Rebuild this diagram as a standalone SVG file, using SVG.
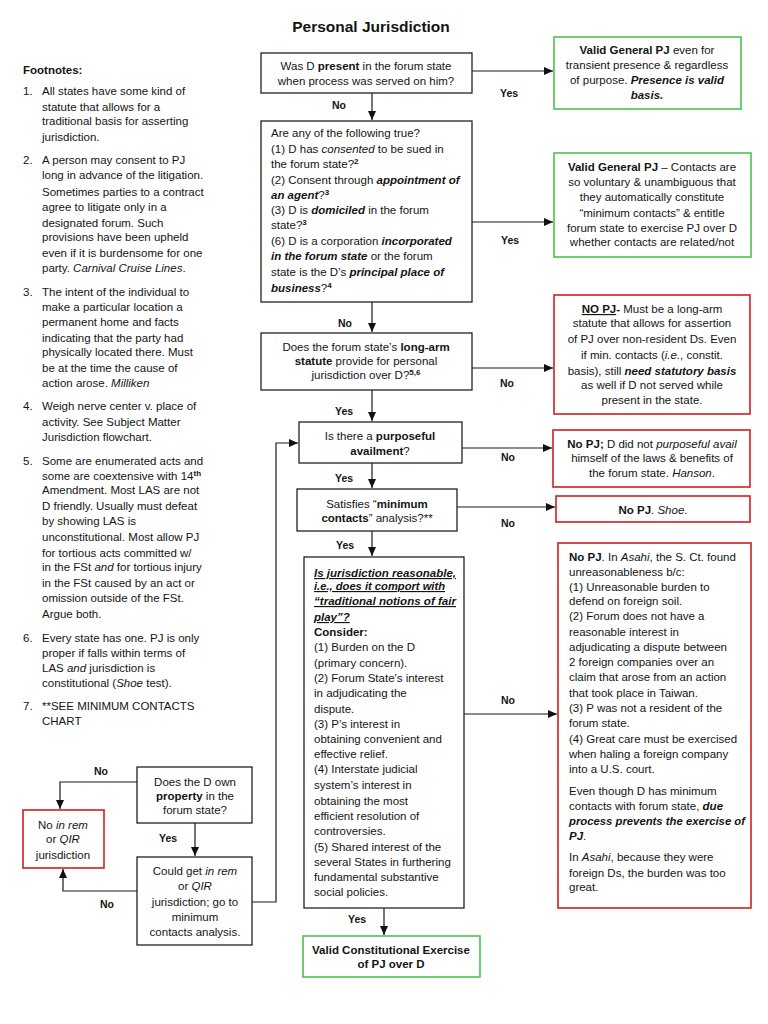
<svg xmlns="http://www.w3.org/2000/svg" width="768" height="1024" viewBox="0 0 768 1024" xml:space="preserve">
<defs>
<marker id="arr" markerUnits="userSpaceOnUse" markerWidth="9" markerHeight="8" refX="9" refY="4" orient="auto">
<path d="M0,0 L9,4 L0,8 z" fill="#111"/>
</marker>
<style>
text{font-family:"Liberation Sans",Arial,sans-serif;font-size:11.5px;fill:#141414}
.c{text-anchor:middle}
.b{font-weight:bold}
.i{font-style:italic}
.bi{font-weight:bold;font-style:italic}
.u{text-decoration:underline}
.sup{font-size:8px}
.title{font-size:15.5px;font-weight:bold}
.lbl{font-size:10.5px;font-weight:bold}
.box{fill:#fff;stroke:#222;stroke-width:1.3}
.green{fill:#fff;stroke:#4cc24c;stroke-width:1.6}
.red{fill:#fff;stroke:#d41f1f;stroke-width:1.6}
.conn path{fill:none;stroke:#1a1a1a;stroke-width:1.2;marker-end:url(#arr)}
</style>
</defs>
<rect width="768" height="1024" fill="#fff"/>
<text class="c title" x="371" y="32">Personal Jurisdiction</text>
<g id="footnotes">
<text class="b" x="23" y="74">Footnotes:</text>
<text x="23" y="95">1.</text>
<text x="42" y="95">All states have some kind of</text>
<text x="42" y="111">statute that allows for a</text>
<text x="42" y="125">traditional basis for asserting</text>
<text x="42" y="141">jurisdiction.</text>
<text x="23" y="164">2.</text>
<text x="42" y="164">A person may consent to PJ</text>
<text x="42" y="179">long in advance of the litigation.</text>
<text x="42" y="196">Sometimes parties to a contract</text>
<text x="42" y="211">agree to litigate only in a</text>
<text x="42" y="227">designated forum.  Such</text>
<text x="42" y="241">provisions have been upheld</text>
<text x="42" y="257">even if it is burdensome for one</text>
<text x="42" y="272">party.  <tspan class="i">Carnival Cruise Lines</tspan>.</text>
<text x="23" y="296">3.</text>
<text x="42" y="296">The intent of the individual to</text>
<text x="42" y="311">make a particular location a</text>
<text x="42" y="326">permanent home and facts</text>
<text x="42" y="342">indicating that the party had</text>
<text x="42" y="356">physically located there.  Must</text>
<text x="42" y="372">be at the time the cause of</text>
<text x="42" y="387">action arose.  <tspan class="i">Milliken</tspan></text>
<text x="23" y="410">4.</text>
<text x="42" y="410">Weigh nerve center v. place of</text>
<text x="42" y="426">activity. See Subject Matter</text>
<text x="42" y="441">Jurisdiction flowchart.</text>
<text x="23" y="465">5.</text>
<text x="42" y="465">Some are enumerated acts and</text>
<text x="42" y="480">some are coextensive with 14<tspan class="sup b" dy="-4">th</tspan></text>
<text x="42" y="494">Amendment. Most LAS are not</text>
<text x="42" y="510">D friendly.  Usually must defeat</text>
<text x="42" y="525">by showing LAS is</text>
<text x="42" y="541">unconstitutional.  Most allow PJ</text>
<text x="42" y="557">for tortious acts committed w/</text>
<text x="42" y="571">in the FSt <tspan class="i">and</tspan> for tortious injury</text>
<text x="42" y="587">in the FSt caused by an act or</text>
<text x="42" y="602">omission outside of the FSt.</text>
<text x="42" y="618">Argue both.</text>
<text x="23" y="642">6.</text>
<text x="42" y="642">Every state has one.  PJ is only</text>
<text x="42" y="657">proper if falls within terms of</text>
<text x="42" y="672">LAS <tspan class="i">and</tspan> jurisdiction is</text>
<text x="42" y="687">constitutional (<tspan class="i">Shoe</tspan> test).</text>
<text x="23" y="710">7.</text>
<text x="42" y="710">**SEE MINIMUM CONTACTS</text>
<text x="42" y="725">CHART</text>
</g>
<g class="conn" id="connectors">
<path d="M472,71 H553"/>
<path d="M372,93 V120"/>
<path d="M472,222 H553"/>
<path d="M372,302 V332"/>
<path d="M472,368 H553"/>
<path d="M372,390 V421"/>
<path d="M462,448 H552"/>
<path d="M372,463 V488"/>
<path d="M457,507 H555"/>
<path d="M372,531 V556"/>
<path d="M464,714 H557"/>
<path d="M384,908 V935"/>
<path d="M252,902 H276 V443 H298"/>
<path d="M137,782 H60 V809"/>
<path d="M195,823 V856"/>
<path d="M137,891 H63 V869"/>
<text class="lbl" x="500" y="97">Yes</text>
<text class="lbl" x="332" y="109">No</text>
<text class="lbl" x="501" y="244">Yes</text>
<text class="lbl" x="338" y="327">No</text>
<text class="lbl" x="500" y="387">No</text>
<text class="lbl" x="335" y="415">Yes</text>
<text class="lbl" x="501" y="461">No</text>
<text class="lbl" x="335" y="482">Yes</text>
<text class="lbl" x="501" y="527">No</text>
<text class="lbl" x="336" y="549">Yes</text>
<text class="lbl" x="501" y="704">No</text>
<text class="lbl" x="348" y="923">Yes</text>
<text class="lbl" x="94" y="775">No</text>
<text class="lbl" x="159" y="842">Yes</text>
<text class="lbl" x="100" y="908">No</text>
</g>
<g id="n-present">
<rect class="box" x="261" y="53" width="211" height="40"/>
<text class="c" x="366" y="70">Was D <tspan class="b">present</tspan> in the forum state</text>
<text class="c" x="366" y="85">when process was served on him?</text>
</g>
<g id="n-valid-presence">
<rect class="green" x="554" y="37" width="187" height="72"/>
<text class="c" x="647" y="54"><tspan class="b">Valid General PJ</tspan> even for</text>
<text class="c" x="647" y="69">transient presence &amp; regardless</text>
<text class="c" x="647" y="84">of purpose.  <tspan class="bi">Presence is valid</tspan></text>
<text class="c" x="647" y="99"><tspan class="bi">basis.</tspan></text>
</g>
<g id="n-consent">
<rect class="box" x="261" y="121" width="211" height="181"/>
<text x="271" y="137">Are any of the following true?</text>
<text x="271" y="153">(1) D has <tspan class="i">consented</tspan> to be sued in</text>
<text x="271" y="168">the forum state?<tspan class="sup b" dy="-4">2</tspan></text>
<text x="271" y="184">(2) Consent through <tspan class="bi">appointment of</tspan></text>
<text x="271" y="199"><tspan class="bi">an agent</tspan>?<tspan class="sup b" dy="-4">3</tspan></text>
<text x="271" y="214">(3) D is <tspan class="bi">domiciled</tspan> in the forum</text>
<text x="271" y="229">state?<tspan class="sup b" dy="-4">3</tspan></text>
<text x="271" y="245">(6) D is a corporation <tspan class="bi">incorporated</tspan></text>
<text x="271" y="260"><tspan class="bi">in the forum state</tspan> or  the forum</text>
<text x="271" y="276">state is the D’s <tspan class="bi">principal place of</tspan></text>
<text x="271" y="292"><tspan class="bi">business</tspan>?<tspan class="sup b" dy="-4">4</tspan></text>
</g>
<g id="n-valid-general">
<rect class="green" x="554" y="153" width="197" height="104"/>
<text class="c" x="652" y="171"><tspan class="b">Valid  General PJ</tspan> – Contacts are</text>
<text class="c" x="652" y="186">so voluntary &amp; unambiguous that</text>
<text class="c" x="652" y="201">they automatically constitute</text>
<text class="c" x="652" y="217">“minimum contacts” &amp; entitle</text>
<text class="c" x="652" y="232">forum state to exercise PJ over D</text>
<text class="c" x="652" y="246">whether contacts are related/not</text>
</g>
<g id="n-longarm">
<rect class="box" x="261" y="333" width="211" height="57"/>
<text class="c" x="366" y="351">Does the forum state’s <tspan class="b">long-arm</tspan></text>
<text class="c" x="366" y="365"><tspan class="b">statute</tspan> provide for personal</text>
<text class="c" x="366" y="379">jurisdiction over D?<tspan class="sup b" dy="-4">5,6</tspan></text>
</g>
<g id="n-no-longarm">
<rect class="red" x="554" y="295" width="196" height="119"/>
<text class="c" x="652" y="313"><tspan class="b u">NO PJ</tspan><tspan class="b">-</tspan> Must be a long-arm</text>
<text class="c" x="652" y="327">statute that allows for assertion</text>
<text class="c" x="652" y="343">of PJ over non-resident Ds. Even</text>
<text class="c" x="652" y="359">if min. contacts (<tspan class="i">i.e.</tspan>, constit.</text>
<text class="c" x="652" y="375">basis), still <tspan class="bi">need statutory basis</tspan></text>
<text class="c" x="652" y="389">as well if D not served while</text>
<text class="c" x="652" y="404">present in the state.</text>
</g>
<g id="n-availment">
<rect class="box" x="299" y="422" width="163" height="41"/>
<text class="c" x="380" y="440">Is there a <tspan class="b">purposeful</tspan></text>
<text class="c" x="380" y="455"><tspan class="b">availment</tspan>?</text>
</g>
<g id="n-no-avail">
<rect class="red" x="553" y="430" width="197" height="57"/>
<text class="c" x="652" y="448"><tspan class="b">No PJ;</tspan> D  did not <tspan class="i">purposeful avail</tspan></text>
<text class="c" x="652" y="462">himself of the laws &amp; benefits of</text>
<text class="c" x="652" y="477">the forum state.  <tspan class="i">Hanson</tspan>.</text>
</g>
<g id="n-mincontacts">
<rect class="box" x="297" y="489" width="160" height="42"/>
<text class="c" x="377" y="508">Satisfies “<tspan class="b">minimum</tspan></text>
<text class="c" x="377" y="522"><tspan class="b">contacts</tspan>” analysis?**</text>
</g>
<g id="n-no-shoe">
<rect class="red" x="556" y="496" width="194" height="26"/>
<text class="c" x="653" y="514"><tspan class="b">No PJ</tspan>.  <tspan class="i">Shoe</tspan>.</text>
</g>
<g id="n-reasonable">
<rect class="box" x="304" y="557" width="160" height="351"/>
<text x="314" y="577" class="bi u" textLength="142" lengthAdjust="spacingAndGlyphs">Is jurisdiction reasonable,</text>
<text x="314" y="590" class="bi u" textLength="131" lengthAdjust="spacingAndGlyphs">i.e., does it comport with</text>
<text x="314" y="605" class="bi u" textLength="142" lengthAdjust="spacingAndGlyphs">“traditional notions of fair</text>
<text x="314" y="621" class="bi u">play”?</text>
<text x="314" y="636" class="b">Consider:</text>
<text x="314" y="651">(1) Burden on the D</text>
<text x="314" y="667">(primary concern).</text>
<text x="314" y="682">(2) Forum State's interest</text>
<text x="314" y="697">in adjudicating the</text>
<text x="314" y="713">dispute.</text>
<text x="314" y="728">(3) P’s interest in</text>
<text x="314" y="743">obtaining convenient and</text>
<text x="314" y="758">effective relief.</text>
<text x="314" y="773">(4) Interstate judicial</text>
<text x="314" y="789">system’s interest in</text>
<text x="314" y="805">obtaining the most</text>
<text x="314" y="820">efficient resolution of</text>
<text x="314" y="835">controversies.</text>
<text x="314" y="851">(5) Shared interest of the</text>
<text x="314" y="866">several States in furthering</text>
<text x="314" y="881">fundamental substantive</text>
<text x="314" y="896">social policies.</text>
</g>
<g id="n-asahi">
<rect class="red" x="558" y="543" width="193" height="365"/>
<text x="569" y="561"><tspan class="b">No PJ</tspan>.  In <tspan class="i">Asahi</tspan>, the S. Ct. found</text>
<text x="569" y="576">unreasonableness b/c:</text>
<text x="569" y="591">(1) Unreasonable burden to</text>
<text x="569" y="605">defend on foreign soil.</text>
<text x="569" y="620">(2) Forum does not have a</text>
<text x="569" y="636">reasonable interest in</text>
<text x="569" y="651">adjudicating a dispute between</text>
<text x="569" y="666">2 foreign companies over an</text>
<text x="569" y="681">claim that arose from an action</text>
<text x="569" y="697">that took place in Taiwan.</text>
<text x="569" y="712">(3) P was not a resident of the</text>
<text x="569" y="727">forum state.</text>
<text x="569" y="743">(4) Great care must be exercised</text>
<text x="569" y="758">when haling a foreign company</text>
<text x="569" y="773">into a U.S. court.</text>
<text x="569" y="795">Even though D has minimum</text>
<text x="569" y="810">contacts with forum state, <tspan class="bi">due</tspan></text>
<text x="569" y="825" class="bi" textLength="176" lengthAdjust="spacingAndGlyphs">process prevents the exercise of</text>
<text x="569" y="840"><tspan class="bi">PJ</tspan>.</text>
<text x="569" y="861">In <tspan class="i">Asahi</tspan>, because they were</text>
<text x="569" y="877">foreign Ds, the burden was too</text>
<text x="569" y="891">great.</text>
</g>
<g id="n-valid-const">
<rect class="green" x="303" y="936" width="177" height="41"/>
<text class="c b" x="391" y="954">Valid Constitutional Exercise</text>
<text class="c b" x="391" y="968">of PJ over D</text>
</g>
<g id="n-property">
<rect class="box" x="137" y="767" width="115" height="56"/>
<text class="c" x="195" y="786">Does the D own</text>
<text class="c" x="195" y="800"><tspan class="b">property</tspan> in the</text>
<text class="c" x="195" y="814">forum state?</text>
</g>
<g id="n-inrem">
<rect class="box" x="137" y="857" width="115" height="88"/>
<text class="c" x="195" y="875">Could get <tspan class="i">in rem</tspan></text>
<text class="c" x="195" y="890">or <tspan class="i">QIR</tspan></text>
<text class="c" x="195" y="906">jurisdiction; go to</text>
<text class="c" x="195" y="921">minimum</text>
<text class="c" x="195" y="936">contacts analysis.</text>
</g>
<g id="n-no-inrem">
<rect class="red" x="23" y="810" width="81" height="58"/>
<text class="c" x="63" y="829">No <tspan class="i">in rem</tspan></text>
<text class="c" x="63" y="843">or <tspan class="i">QIR</tspan></text>
<text class="c" x="63" y="859">jurisdiction</text>
</g>
</svg>
